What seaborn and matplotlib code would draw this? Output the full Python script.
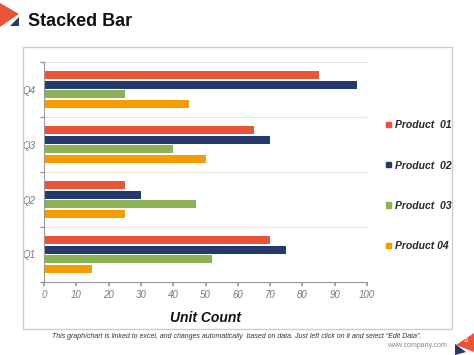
import matplotlib
matplotlib.use("Agg")
import matplotlib.pyplot as plt
import matplotlib.patches as mpatches
import pandas as pd
import seaborn as sns

quarters = ["Q4", "Q3", "Q2", "Q1"]
products = ["Product  01", "Product  02", "Product  03", "Product 04"]
product_01 = [85, 65, 25, 70]
product_02 = [97, 70, 30, 75]
product_03 = [25, 40, 47, 52]
product_04 = [45, 50, 25, 15]
x_ticks = list(range(0, 101, 10))

colors = ["#E8533A", "#233A6B", "#8DB255", "#F59D00"]

rows = []
for name, vals in zip(products, [product_01, product_02, product_03, product_04]):
    for q, v in zip(quarters, vals):
        rows.append({"Quarter": q, "Product": name, "Units": v})
df = pd.DataFrame(rows)

sns.set_theme(style="white")
plt.rcParams["font.family"] = ["Liberation Sans", "DejaVu Sans"]

W, H = 474, 355
fig = plt.figure(figsize=(W / 100, H / 100), dpi=100)
ax = fig.add_axes([44 / W, 1 - 282 / H, (367 - 44) / W, (282 - 62) / H])

sns.barplot(data=df, y="Quarter", x="Units", hue="Product", order=quarters,
            hue_order=products, palette=colors, orient="h", width=0.7,
            saturation=1, ax=ax, legend=False)
for p in ax.patches:
    h = p.get_height()
    p.set_height(h * 0.86)
    p.set_y(p.get_y() + h * 0.07)
    p.set_linewidth(0)

ax.set_xlim(0, 100)
ax.set_ylim(3.5, -0.5)
ax.set_xticks(x_ticks)
ax.set_xticklabels([str(t) for t in x_ticks], fontstyle="italic", color="#777777", fontsize=7)
ax.set_yticks(range(4))
ax.set_yticklabels(quarters, fontstyle="italic", color="#777777", fontsize=7)
ax.set_yticks([-0.5, 0.5, 1.5, 2.5, 3.5], minor=True)
ax.tick_params(axis="y", which="major", length=0, pad=6)
ax.tick_params(axis="y", which="minor", length=3, color="#999999", direction="out", left=True)
ax.tick_params(axis="x", length=3, color="#999999", direction="out", bottom=True, pad=3)
for b in [-0.5, 0.5, 1.5, 2.5]:
    ax.axhline(b, color="#e4e4e4", lw=0.8, zorder=0)
for s in ["top", "right"]:
    ax.spines[s].set_visible(False)
for s in ["left", "bottom"]:
    ax.spines[s].set_color("#999999")
    ax.spines[s].set_linewidth(0.8)
ax.set_xlabel("Unit Count", fontsize=10, fontweight="bold", fontstyle="italic",
              color="#111111", labelpad=8)
ax.set_ylabel("")

handles = [mpatches.Patch(color=c, label=l) for c, l in zip(colors, products)]
leg = fig.legend(handles=handles, loc="upper left", bbox_to_anchor=(377 / W, 1 - 111 / H),
                 frameon=False, handlelength=0.4, handleheight=0.4, handletextpad=0.4,
                 labelspacing=2.9, prop={"size": 7.5, "weight": "bold", "style": "italic"})

# outer frame
fig.add_artist(mpatches.Rectangle((22.5 / W, 1 - 329 / H), (451.5 - 22.5) / W, (329 - 47) / H,
                                  transform=fig.transFigure, fill=False,
                                  edgecolor="#cccccc", lw=1))

fig.text(28 / W, 1 - 21 / H, "Stacked Bar", fontsize=13, fontweight="bold",
         va="center", ha="left", color="#111111")
fig.text(237 / W, 1 - 337 / H,
         "This graph/chart is linked to excel, and changes automatically  based on data. Just left click on it and select \u201cEdit Data\u201d.",
         fontsize=5, fontstyle="italic", ha="center", va="center", color="#333333")
fig.text(447 / W, 1 - 345.5 / H, "www.company.com", fontsize=5, ha="right",
         va="center", color="#888888")

# decorations
fig.add_artist(mpatches.Polygon([(0, 1 - 3 / H), (19 / W, 1 - 14 / H), (0, 1 - 27 / H)],
                                closed=True, transform=fig.transFigure, color="#E8533A", lw=0))
fig.add_artist(mpatches.Polygon([(10 / W, 1 - 26 / H), (19 / W, 1 - 17 / H), (19 / W, 1 - 26 / H)],
                                closed=True, transform=fig.transFigure, color="#233A6B", lw=0))
fig.add_artist(mpatches.Polygon([(474 / W, 1 - 333 / H), (456 / W, 1 - 345 / H), (474 / W, 1 - 352 / H)],
                                closed=True, transform=fig.transFigure, color="#E8533A", lw=0))
fig.add_artist(mpatches.Polygon([(455 / W, 1 - 344 / H), (466 / W, 1 - 352 / H), (455 / W, 1 - 355 / H)],
                                closed=True, transform=fig.transFigure, color="#233A6B", lw=0))
fig.text(466 / W, 1 - 341 / H, "12", fontsize=3.5, color="white", ha="center", va="center")

fig.savefig("out.png", dpi=100)
